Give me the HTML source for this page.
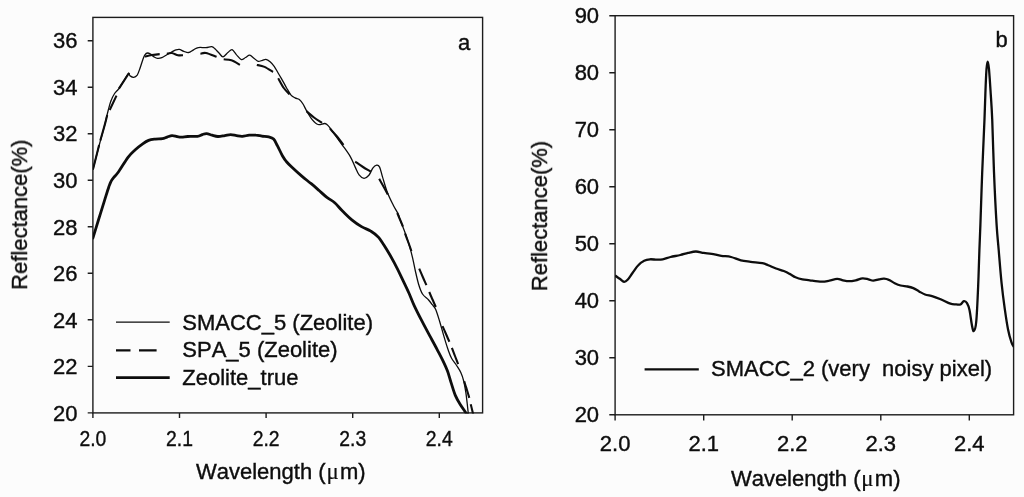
<!DOCTYPE html>
<html><head><meta charset="utf-8"><title>Reflectance spectra</title>
<style>html,body{margin:0;padding:0;background:#fcfcfc;overflow:hidden}svg{display:block}text{font-family:"Liberation Sans",sans-serif;font-size:22.66px;fill:#0d0d0d;stroke:#0d0d0d;stroke-width:0.40px;font-kerning:none;font-variant-ligatures:none}.mu{font-family:"Liberation Serif","DejaVu Serif",serif;font-size:23.5px;stroke-width:.2px}.ax{stroke:#1c1c1c;stroke-width:1.40;fill:none}</style></head><body>
<svg width="1024" height="497" viewBox="0 0 1024 497">
<rect width="1024" height="497" fill="#fcfcfc"/>
<defs><clipPath id="cl"><rect x="92.9" y="17.4" width="389.7" height="396.1"/></clipPath><clipPath id="cr"><rect x="615.1" y="15.7" width="398.5" height="399.7"/></clipPath></defs>
<g style="filter:blur(0.40px)">
<g id="plot-a">
<rect class="ax" x="92.9" y="17.4" width="389.7" height="395.5"/>
<path class="ax" d="M87.7 412.9H92.9M87.7 366.4H92.9M87.7 319.8H92.9M87.7 273.3H92.9M87.7 226.8H92.9M87.7 180.3H92.9M87.7 133.7H92.9M87.7 87.2H92.9M87.7 40.7H92.9M92.9 412.9V417.9M179.5 412.9V417.9M266.1 412.9V417.9M352.7 412.9V417.9M439.3 412.9V417.9"/>
<text transform="translate(77.4 420.6) scale(0.9709 1)" text-anchor="end">20</text>
<text transform="translate(77.4 374.1) scale(0.9709 1)" text-anchor="end">22</text>
<text transform="translate(77.4 327.5) scale(0.9709 1)" text-anchor="end">24</text>
<text transform="translate(77.4 281.0) scale(0.9709 1)" text-anchor="end">26</text>
<text transform="translate(77.4 234.5) scale(0.9709 1)" text-anchor="end">28</text>
<text transform="translate(77.4 188.0) scale(0.9709 1)" text-anchor="end">30</text>
<text transform="translate(77.4 141.4) scale(0.9709 1)" text-anchor="end">32</text>
<text transform="translate(77.4 94.9) scale(0.9709 1)" text-anchor="end">34</text>
<text transform="translate(77.4 48.4) scale(0.9709 1)" text-anchor="end">36</text>
<text transform="translate(92.9 445.5) scale(0.8544 1)" text-anchor="middle">2.0</text>
<text transform="translate(179.5 445.5) scale(0.8544 1)" text-anchor="middle">2.1</text>
<text transform="translate(266.1 445.5) scale(0.8544 1)" text-anchor="middle">2.2</text>
<text transform="translate(352.7 445.5) scale(0.8544 1)" text-anchor="middle">2.3</text>
<text transform="translate(439.3 445.5) scale(0.8544 1)" text-anchor="middle">2.4</text>
<text transform="translate(280.8 479.3) scale(0.9709 1)" text-anchor="middle">Wavelength (<tspan class="mu" dx="0.9">μ</tspan><tspan dx="1.3">m</tspan>)</text>
<text transform="translate(27.0 214.7) rotate(-90) scale(0.9709 1)" text-anchor="middle">Reflectance(%)</text>
<text transform="translate(458.0 50.3) scale(0.9709 1)">a</text>
<g clip-path="url(#cl)" fill="none" stroke="#0d0d0d" stroke-linejoin="round">
<path stroke-width="2.80" stroke-linecap="round" d="M92.9 238.1 C93.9 235.0 96.7 225.7 98.6 219.5 C100.5 213.3 102.7 206.3 104.4 200.9 C106.1 195.5 107.7 190.2 108.8 187.0 C109.9 183.8 110.0 183.4 110.8 181.8 C111.6 180.2 112.5 179.0 113.8 177.4 C115.1 175.8 116.0 175.3 118.4 172.0 C120.8 168.7 125.2 161.0 128.0 157.3 C130.8 153.6 132.6 152.2 135.0 150.0 C137.4 147.8 140.4 145.4 142.7 143.8 C145.0 142.2 146.5 141.2 148.6 140.4 C150.7 139.6 153.1 139.4 155.4 139.1 C157.7 138.8 160.4 139.0 162.3 138.7 C164.2 138.4 165.5 137.6 167.1 137.1 C168.7 136.6 170.4 135.7 172.0 135.6 C173.6 135.5 175.3 136.2 176.9 136.5 C178.5 136.8 180.0 137.1 181.8 137.1 C183.6 137.1 185.1 136.6 187.7 136.5 C190.3 136.4 195.0 136.6 197.4 136.3 C199.8 136.0 200.8 135.1 202.3 134.6 C203.8 134.1 205.0 133.5 206.6 133.6 C208.2 133.7 210.2 134.7 212.1 135.2 C214.0 135.7 215.8 136.4 217.9 136.5 C220.0 136.6 222.7 135.9 224.8 135.6 C226.9 135.3 228.7 134.6 230.6 134.6 C232.5 134.6 234.6 135.3 236.5 135.6 C238.4 135.9 240.2 136.4 242.3 136.3 C244.4 136.2 246.9 135.4 249.2 135.2 C251.5 135.0 253.9 135.0 256.0 135.2 C258.1 135.3 259.8 135.8 261.9 136.1 C264.0 136.4 266.8 136.4 268.7 136.9 C270.6 137.4 272.1 137.6 273.6 139.1 C275.1 140.6 276.0 143.1 277.5 145.9 C279.0 148.7 280.9 153.1 282.4 155.7 C283.9 158.3 284.8 159.6 286.3 161.5 C287.9 163.4 289.2 164.7 291.7 167.1 C294.2 169.5 298.2 173.1 301.5 175.9 C304.8 178.7 308.3 181.3 311.2 183.7 C314.2 186.1 316.5 188.2 319.1 190.5 C321.7 192.8 324.3 195.4 326.9 197.4 C329.5 199.4 332.1 200.4 334.7 202.7 C337.3 205.0 339.6 208.2 342.5 211.0 C345.4 213.8 348.6 217.2 351.8 219.8 C355.0 222.4 358.3 224.7 361.5 226.6 C364.7 228.5 367.9 229.3 370.8 231.1 C373.7 232.9 376.0 234.3 378.6 237.3 C381.2 240.3 383.8 244.9 386.4 249.1 C389.0 253.3 391.6 257.8 394.2 262.7 C396.8 267.6 399.6 273.3 402.0 278.4 C404.4 283.4 406.9 288.5 408.9 293.0 C410.9 297.5 412.0 300.9 414.2 305.6 C416.4 310.3 419.4 316.2 422.0 321.2 C424.6 326.3 427.2 331.1 429.8 335.9 C432.4 340.7 435.2 345.8 437.3 349.8 C439.4 353.8 440.8 356.3 442.5 359.9 C444.2 363.4 446.1 367.4 447.5 371.1 C448.9 374.9 449.7 378.4 451.0 382.4 C452.3 386.4 453.7 391.5 455.2 395.1 C456.7 398.7 458.3 401.3 460.1 404.2 C461.9 407.1 464.7 411.0 465.8 412.7 C466.9 414.4 466.8 414.2 467.0 414.5"/>
<path stroke-width="1.30" d="M92.9 169.6 C94.1 165.2 97.8 150.4 99.8 143.0 C101.8 135.6 103.2 130.9 104.6 125.4 C106.0 119.9 107.2 114.1 108.3 110.0 C109.4 105.9 110.0 103.3 111.1 100.6 C112.1 97.8 113.3 95.5 114.6 93.5 C115.9 91.5 117.4 90.7 118.9 88.6 C120.4 86.5 122.2 83.3 123.8 80.8 C125.4 78.3 127.3 74.6 128.3 73.8 C129.4 73.0 129.2 75.3 130.1 75.9 C131.0 76.5 132.5 77.4 133.7 77.3 C134.9 77.2 136.1 76.7 137.2 75.2 C138.2 73.7 139.1 70.8 140.0 68.2 C140.9 65.6 142.0 61.9 142.8 59.7 C143.6 57.5 144.1 55.9 144.9 54.8 C145.7 53.7 146.8 53.1 147.7 53.0 C148.6 52.9 149.5 53.5 150.6 54.1 C151.7 54.8 152.9 56.2 154.1 56.9 C155.3 57.6 156.3 58.2 157.6 58.3 C158.9 58.4 160.3 58.2 161.8 57.6 C163.3 57.0 165.2 55.7 166.8 54.8 C168.5 53.9 170.2 52.8 171.7 52.0 C173.2 51.2 174.6 50.3 175.9 49.9 C177.2 49.5 178.1 49.2 179.4 49.4 C180.7 49.6 182.2 50.8 183.8 51.3 C185.3 51.8 187.0 52.8 188.6 52.5 C190.2 52.2 191.9 50.6 193.5 49.8 C195.1 49.0 196.2 48.0 198.3 47.6 C200.4 47.2 203.8 47.8 206.0 47.6 C208.2 47.4 210.2 46.4 211.7 46.6 C213.2 46.8 214.0 47.9 215.2 49.0 C216.4 50.1 217.7 51.7 219.0 53.0 C220.3 54.3 221.5 56.9 223.0 56.8 C224.5 56.7 226.4 53.7 227.9 52.5 C229.4 51.3 230.7 49.4 232.1 49.7 C233.5 50.1 234.8 53.0 236.3 54.6 C237.8 56.2 239.8 59.1 241.3 59.6 C242.8 60.1 244.1 58.2 245.5 57.5 C246.9 56.8 248.3 55.0 249.7 55.1 C251.1 55.2 252.5 57.2 253.9 58.2 C255.3 59.2 256.8 60.9 258.2 61.3 C259.6 61.6 261.1 60.6 262.4 60.3 C263.7 60.0 264.6 59.1 265.9 59.3 C267.2 59.5 268.7 60.5 270.1 61.7 C271.5 62.9 272.8 64.3 274.2 66.3 C275.6 68.3 277.0 71.2 278.4 73.5 C279.8 75.8 281.0 77.9 282.4 80.3 C283.8 82.7 285.2 85.6 286.6 88.0 C288.0 90.4 289.4 93.1 290.8 94.8 C292.2 96.5 293.7 97.1 295.1 97.9 C296.5 98.7 298.0 98.5 299.3 99.5 C300.6 100.5 301.8 102.0 303.0 104.0 C304.2 106.0 305.3 108.6 306.8 111.2 C308.3 113.8 310.3 117.4 312.2 119.6 C314.1 121.8 316.0 123.8 318.1 124.5 C320.2 125.2 323.1 123.2 324.9 123.5 C326.7 123.8 327.3 124.8 328.8 126.4 C330.3 128.0 331.4 130.0 333.7 133.2 C336.0 136.3 339.7 141.4 342.5 145.3 C345.3 149.2 348.2 153.0 350.3 156.6 C352.4 160.2 353.7 164.0 355.2 167.1 C356.7 170.2 357.6 173.0 359.1 174.9 C360.6 176.8 362.4 178.3 364.0 178.4 C365.6 178.5 367.4 177.0 368.9 175.3 C370.4 173.6 371.5 169.8 372.8 168.1 C374.1 166.4 375.6 165.4 376.7 165.2 C377.8 165.0 378.6 165.1 379.6 167.1 C380.6 169.1 381.2 172.7 382.5 176.9 C383.8 181.1 385.6 187.8 387.4 192.5 C389.2 197.2 391.5 201.6 393.3 205.2 C395.1 208.8 397.1 211.6 398.2 214.0 C399.3 216.4 399.0 216.7 400.1 219.8 C401.2 222.9 403.4 227.9 405.0 232.5 C406.6 237.1 408.5 242.7 409.8 247.1 C411.1 251.5 411.8 254.6 412.8 258.8 C413.8 263.0 414.7 268.3 415.7 272.5 C416.7 276.7 417.5 280.6 418.6 284.2 C419.7 287.8 420.9 291.4 422.5 294.0 C424.1 296.6 426.8 298.0 428.4 299.8 C430.0 301.6 431.1 303.1 432.3 304.7 C433.5 306.3 434.5 306.7 435.7 309.5 C436.9 312.3 438.3 317.0 439.6 321.2 C440.9 325.5 442.1 330.1 443.5 334.9 C444.9 339.7 446.9 346.4 448.3 350.3 C449.7 354.2 450.3 356.0 451.7 358.5 C453.1 361.0 455.1 363.2 456.6 365.5 C458.1 367.8 459.6 369.9 460.8 372.5 C462.0 375.1 462.9 377.7 463.7 381.0 C464.5 384.3 465.2 388.5 465.8 392.2 C466.4 396.0 466.8 400.1 467.2 403.5 C467.6 406.9 468.0 410.9 468.2 412.7 C468.4 414.5 468.4 414.2 468.4 414.5"/>
<path stroke-width="2.10" d="M92.9 169.6 C93.4 167.6 95.0 161.6 96.0 157.5 C97.0 153.4 98.6 147.0 99.1 144.9 M100.3 140.5 C101.0 138.0 103.4 129.7 104.6 125.4 C105.8 121.2 106.8 116.7 107.2 115.0 M109.7 110.0 L116.5 95.6 M118.9 88.6 L129.2 72.7 M144.9 56.6 C146.1 56.3 149.5 55.4 152.0 55.0 C154.5 54.6 158.4 54.2 159.7 54.1 M166.8 53.7 C167.6 53.6 169.8 52.8 171.7 53.0 C173.6 53.2 176.1 54.8 178.0 55.2 C179.9 55.6 182.2 55.2 183.0 55.2 M200.4 53.7 C201.3 53.6 203.3 52.5 206.0 53.0 C208.7 53.5 214.8 56.2 216.6 56.8 M223.7 59.3 C225.0 59.5 228.7 59.4 231.4 60.3 C234.1 61.2 238.5 64.1 239.9 64.9 M256.8 64.9 C258.1 65.2 261.8 65.7 264.5 66.9 C267.2 68.1 271.6 71.2 273.0 72.0 M278.2 78.2 C279.1 79.8 281.9 85.3 283.8 88.0 C285.7 90.7 288.6 93.3 289.6 94.4 M306.4 111.2 C307.7 112.2 311.4 115.5 314.0 117.5 C316.6 119.5 320.7 122.0 322.0 122.9 M329.8 128.4 C331.0 129.8 334.7 133.7 337.0 136.5 C339.3 139.3 342.4 143.6 343.5 145.0 M355.2 161.6 C356.5 162.5 360.4 165.3 363.0 167.0 C365.6 168.7 369.5 170.8 370.8 171.6 M379.2 178.8 C379.9 180.1 382.1 183.9 383.5 186.5 C384.9 189.1 387.1 193.2 387.8 194.5 M397.2 213.0 C397.7 214.1 399.0 217.2 400.0 219.5 C401.0 221.8 402.5 225.4 403.0 226.6 M405.0 233.4 C405.5 234.8 407.1 239.1 408.2 242.0 C409.3 244.9 410.9 249.5 411.4 251.0 M419.2 268.6 C419.8 270.0 421.6 274.2 422.8 277.0 C424.0 279.8 425.8 283.8 426.4 285.2 M429.2 292.0 C429.8 293.2 431.4 297.0 432.5 299.5 C433.6 302.0 435.2 305.8 435.8 307.0 M442.5 326.1 C443.1 327.4 444.9 331.4 446.0 334.0 C447.1 336.6 448.8 340.5 449.4 341.8 M451.9 347.8 C452.4 349.2 454.0 353.3 455.0 356.0 C456.0 358.7 457.6 362.8 458.1 364.2 M464.2 381.3 C464.6 382.7 465.9 386.7 466.8 389.5 C467.7 392.3 468.9 396.5 469.3 397.9 M470.7 404.2 C471.1 405.6 472.4 411.0 472.8 412.7 C473.2 414.4 473.1 414.2 473.2 414.5"/>
</g>
<g fill="none" stroke="#0d0d0d">
<path stroke-width="1.20" d="M116 322.1H169.7"/>
<path stroke-width="2.10" d="M116 350.4H130.5M139 350.4H156.6"/>
<path stroke-width="2.80" d="M116 377.7H169.7"/>
</g>
<text transform="translate(182.3 329.7) scale(0.9709 1)">SMACC_5 (Zeolite)</text>
<text transform="translate(182.3 357.3) scale(0.9709 1)">SPA_5 (Zeolite)</text>
<text transform="translate(182.3 385.0) scale(0.9709 1)">Zeolite_true</text>
</g>
<g id="plot-b">
<rect class="ax" x="615.1" y="15.7" width="398.5" height="399.1"/>
<path class="ax" d="M609.3 414.8H615.1M609.3 357.7H615.1M609.3 300.7H615.1M609.3 243.7H615.1M609.3 186.7H615.1M609.3 129.7H615.1M609.3 72.7H615.1M609.3 15.7H615.1M615.1 414.8V420.6M703.7 414.8V420.6M792.2 414.8V420.6M880.8 414.8V420.6M969.3 414.8V420.6"/>
<text transform="translate(599.1 422.4) scale(0.9709 1)" text-anchor="end">20</text>
<text transform="translate(599.1 365.4) scale(0.9709 1)" text-anchor="end">30</text>
<text transform="translate(599.1 308.4) scale(0.9709 1)" text-anchor="end">40</text>
<text transform="translate(599.1 251.4) scale(0.9709 1)" text-anchor="end">50</text>
<text transform="translate(599.1 194.4) scale(0.9709 1)" text-anchor="end">60</text>
<text transform="translate(599.1 137.4) scale(0.9709 1)" text-anchor="end">70</text>
<text transform="translate(599.1 80.4) scale(0.9709 1)" text-anchor="end">80</text>
<text transform="translate(599.1 23.4) scale(0.9709 1)" text-anchor="end">90</text>
<text transform="translate(615.1 450.6) scale(0.9709 1)" text-anchor="middle">2.0</text>
<text transform="translate(703.7 450.6) scale(0.9709 1)" text-anchor="middle">2.1</text>
<text transform="translate(792.2 450.6) scale(0.9709 1)" text-anchor="middle">2.2</text>
<text transform="translate(880.8 450.6) scale(0.9709 1)" text-anchor="middle">2.3</text>
<text transform="translate(969.3 450.6) scale(0.9709 1)" text-anchor="middle">2.4</text>
<text transform="translate(815.7 486.2) scale(0.9709 1)" text-anchor="middle">Wavelength (<tspan class="mu" dx="0.9">μ</tspan><tspan dx="1.3">m</tspan>)</text>
<text transform="translate(547.0 216.0) rotate(-90) scale(0.9709 1)" text-anchor="middle">Reflectance(%)</text>
<text transform="translate(995.5 46.6) scale(0.9709 1)">b</text>
<g clip-path="url(#cr)" fill="none" stroke="#0d0d0d" stroke-linejoin="round">
<path stroke-width="2.30" d="M615.1 275.6 C615.9 276.1 618.3 277.8 619.8 278.8 C621.3 279.8 622.8 281.6 624.1 281.8 C625.4 281.9 626.2 281.3 627.6 279.8 C629.0 278.3 630.7 275.4 632.5 273.0 C634.3 270.6 636.3 267.2 638.3 265.2 C640.2 263.1 642.2 261.7 644.2 260.7 C646.2 259.7 647.9 259.5 650.0 259.3 C652.1 259.1 654.8 259.7 656.9 259.7 C659.0 259.7 660.4 259.8 662.7 259.3 C665.0 258.9 667.6 257.7 670.5 257.0 C673.4 256.3 677.4 255.7 680.3 255.0 C683.2 254.3 685.5 253.5 688.1 252.9 C690.7 252.3 693.3 251.5 695.9 251.5 C698.5 251.5 701.1 252.5 703.8 252.9 C706.4 253.3 708.7 253.3 711.6 253.8 C714.5 254.3 718.0 255.3 721.3 255.8 C724.5 256.3 727.8 256.2 731.1 257.0 C734.4 257.8 737.6 259.5 740.9 260.3 C744.1 261.1 747.0 261.3 750.6 261.8 C754.2 262.3 759.4 262.6 762.3 263.2 C765.2 263.8 765.9 264.3 768.2 265.2 C770.5 266.1 773.4 267.5 776.0 268.5 C778.6 269.5 781.5 270.1 783.8 271.0 C786.1 271.9 787.8 272.8 789.7 273.9 C791.7 274.9 793.4 276.4 795.5 277.3 C797.6 278.2 800.0 278.9 802.4 279.4 C804.8 279.9 806.6 279.9 809.8 280.3 C813.0 280.7 818.2 281.5 821.5 281.6 C824.8 281.7 826.7 281.1 829.3 280.7 C831.9 280.2 834.8 279.0 837.1 278.9 C839.4 278.8 841.0 279.9 843.0 280.3 C845.0 280.7 846.7 281.2 848.8 281.2 C850.9 281.2 853.4 280.8 855.7 280.3 C858.0 279.8 860.4 278.5 862.5 278.3 C864.6 278.1 866.6 278.9 868.4 279.3 C870.2 279.7 871.4 280.7 873.2 280.7 C875.0 280.7 877.3 279.6 879.1 279.3 C880.9 279.0 882.4 278.6 884.0 278.7 C885.6 278.8 887.1 279.1 888.9 279.9 C890.7 280.6 892.8 282.3 894.7 283.2 C896.7 284.1 898.5 284.9 900.6 285.5 C902.7 286.1 905.3 286.1 907.4 286.5 C909.5 286.9 911.3 287.3 913.3 288.1 C915.2 288.9 917.1 290.3 919.1 291.4 C921.1 292.5 922.7 293.7 925.0 294.5 C927.3 295.3 930.2 295.5 932.8 296.3 C935.4 297.1 937.7 298.0 940.6 299.2 C943.5 300.4 947.8 302.8 950.4 303.7 C953.0 304.6 954.6 304.2 956.2 304.3 C957.9 304.4 959.1 305.0 960.4 304.5 C961.7 304.0 962.8 301.4 963.9 301.2 C965.0 301.0 966.1 301.7 967.0 303.2 C967.9 304.7 968.7 306.4 969.5 310.0 C970.3 313.6 971.1 321.0 971.8 324.5 C972.5 328.0 973.0 331.4 973.7 331.0 C974.4 330.6 975.5 329.7 976.2 322.0 C977.0 314.3 977.7 297.0 978.2 285.0 C978.7 273.0 979.0 260.1 979.4 250.0 C979.8 239.9 979.9 237.5 980.4 224.6 C980.9 211.7 981.5 189.9 982.2 172.3 C982.9 154.7 984.0 132.7 984.5 119.0 C985.0 105.3 985.2 98.6 985.5 90.3 C985.8 82.0 986.2 73.8 986.5 69.0 C986.9 64.2 987.3 61.6 987.7 61.6 C988.1 61.6 988.5 64.2 989.0 69.0 C989.4 73.8 990.0 82.0 990.5 90.3 C991.0 98.6 991.6 105.3 992.2 119.0 C992.8 132.7 993.3 154.7 994.0 172.3 C994.7 189.9 995.8 211.7 996.6 224.6 C997.4 237.5 997.9 240.4 998.7 250.0 C999.5 259.6 1000.5 272.6 1001.5 282.3 C1002.5 292.0 1003.6 300.6 1004.7 308.4 C1005.8 316.2 1006.9 323.6 1008.0 329.3 C1009.1 335.0 1010.5 339.5 1011.5 342.4 C1012.5 345.3 1013.4 346.1 1013.8 346.9"/>
</g>
<path fill="none" stroke="#0d0d0d" stroke-width="2.30" d="M644.6 369.3H698.8"/>
<text transform="translate(711.0 376.1) scale(0.9709 1)" xml:space="preserve">SMACC_2 (very  noisy pixel)</text>
</g>
</g>
</svg></body></html>
